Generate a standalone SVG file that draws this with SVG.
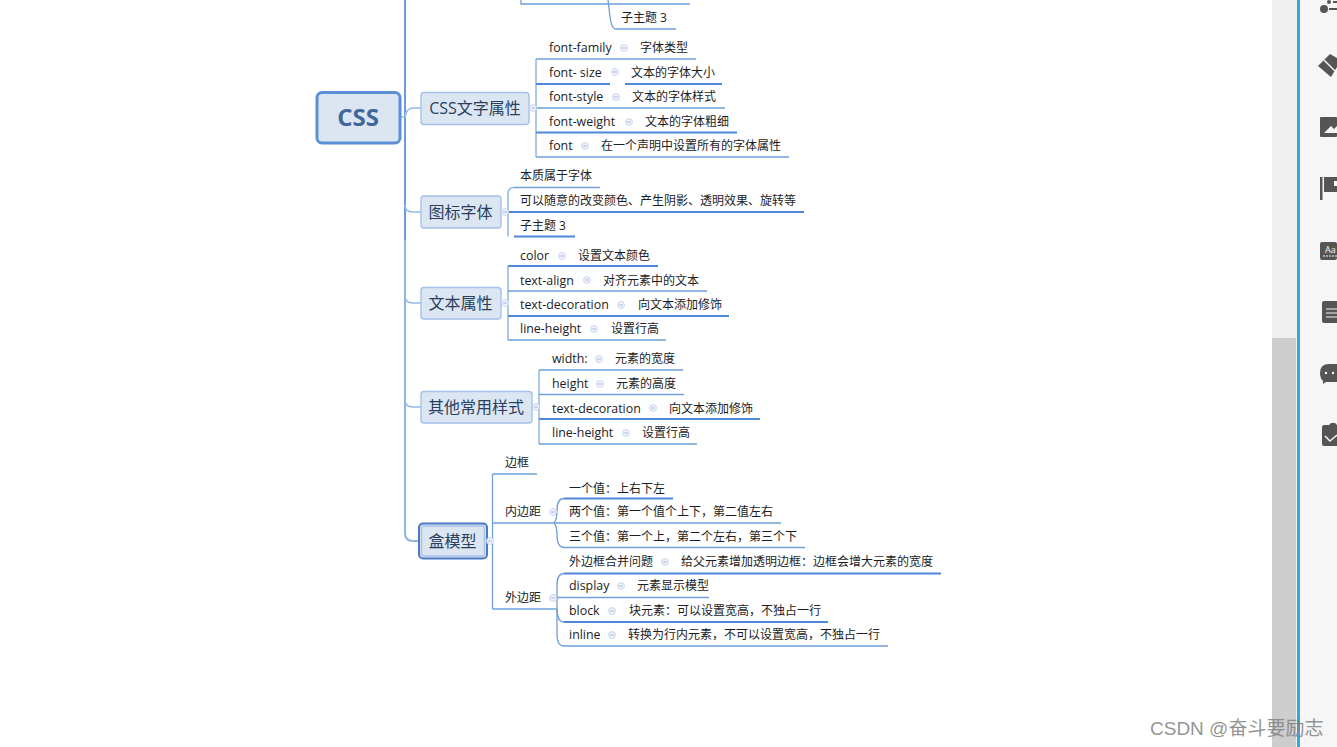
<svg xmlns="http://www.w3.org/2000/svg" width="1337" height="747" viewBox="0 0 1337 747">
<style>
text{font-family:"Open Sans","Noto Sans CJK SC",sans-serif}
.l{font-size:12px;fill:#1c1c24;dominant-baseline:central}
.a{font-size:12.4px}
.s{font-size:16px;fill:#2a3f5c;text-anchor:middle;dominant-baseline:central}
.c{fill:none;stroke:#6f9fdc;stroke-width:1.3}
.b{fill:none;stroke:#97bbe8;stroke-width:1.6}
.m{fill:none;stroke:#6b9bdc;stroke-width:2}
.m2{fill:none;stroke:#8fb4e6;stroke-width:2}
.t{fill:none;stroke:#4f88d8;stroke-width:2}
.n{fill:#dce6f3;stroke:#a3c1ea;stroke-width:1.4}
.f{fill:#f0f3fa;stroke:#c9d5ee;stroke-width:1}
.d{stroke:#a5b2d0;stroke-width:1}
.i{fill:#555}
.w{fill:#f7f7f7}
</style>
<defs>
<g id="fold"><circle r="3.400" class="f"/><path d="M-1.800 0H1.800" class="d"/></g>
</defs>
<rect width="1337" height="747" fill="#fff"/>

<g id="connectors">
<path class="m" d="M405 0V240"/>
<path class="m2" d="M405 240V533Q405 541 413 541H418"/>
<path class="b" d="M400 117H405Q406 108 414 108H421"/>
<path class="b" d="M405 205Q405 212 413 212H421"/>
<path class="b" d="M405 296Q405 303 413 303H421"/>
<path class="b" d="M405 400Q405 407 413 407H421"/>
<path class="c" d="M521 0V4H690"/>
<path class="c" d="M608 0C610 14 610 29 616 29H676"/>
<path class="b" d="M529 108H536"/>
<path class="b" d="M536 157V59"/>
<path class="c" d="M536 59H696"/>
<path class="t" d="M536 84H610M625 84H722"/>
<path class="c" d="M536 108H725"/>
<path class="t" d="M536 132.500H737"/>
<path class="c" d="M536 157H789"/>
<path class="b" d="M501 212H508"/>
<path class="b" d="M508 236.500V194Q508 187.500 514 187.500"/>
<path class="c" d="M514 187.500H600"/>
<path class="t" d="M508 212H804"/>
<path class="t" d="M514 236.500H575"/>
<path class="b" d="M501 303H508"/>
<path class="b" d="M508 340V266"/>
<path class="t" d="M508 266H658"/>
<path class="c" d="M508 291H707"/>
<path class="t" d="M508 316H729"/>
<path class="c" d="M508 340H666"/>
<path class="b" d="M532 407H539"/>
<path class="b" d="M539 444V370"/>
<path class="c" d="M539 370H683"/>
<path class="c" d="M539 394.500H684"/>
<path class="t" d="M539 419H760"/>
<path class="c" d="M539 444H697"/>
<path class="c" d="M487 541H492"/>
<path class="c" d="M492.500 609V474"/>
<path class="c" d="M492.500 474H537"/>
<path class="c" d="M492.500 523H781"/>
<path class="c" d="M492.500 609H557"/>
<path class="c" d="M554 523Q557 520 557 510Q557 498.500 564 498.500"/>
<path class="t" d="M564 498.500H673"/>
<path class="c" d="M554 523Q557 526 557 535Q557 547.500 564 547.500H805"/>
<path class="c" d="M557 609V585Q557 573.500 564 573.500"/>
<path class="t" d="M564 573.500H941"/>
<path class="c" d="M557 597.500H709"/>
<path class="c" d="M557 609Q557 622 564 622"/>
<path class="t" d="M564 622H828"/>
<path class="c" d="M557 609V634Q557 646 564 646H888"/>
</g>

<g id="node-css"><rect x="317" y="92.500" width="83" height="50.500" rx="5" fill="#dce6f3" stroke="#5b8fd6" stroke-width="3"/><text x="358" y="116" text-anchor="middle" dominant-baseline="central" style="font-size:24px;font-weight:700;fill:#41669a">CSS</text></g>

<g id="node-t0"><text class="l" x="621" y="17">子主题 3</text></g>

<g id="node-font"><rect class="n" x="421" y="92.500" width="108" height="32" rx="3"/><text class="s" x="475" y="108">CSS文字属性</text><use href="#fold" x="533" y="108"/></g>
<g id="node-font-family"><text class="l a" x="549" y="47">font-family</text><use href="#fold" x="624" y="48"/><text class="l" x="640" y="47">字体类型</text></g>
<g id="node-font-size"><text class="l a" x="549" y="72">font- size</text><use href="#fold" x="615" y="72"/><text class="l" x="631" y="72">文本的字体大小</text></g>
<g id="node-font-style"><text class="l a" x="549" y="96.500">font-style</text><use href="#fold" x="616" y="97"/><text class="l" x="632" y="96.500">文本的字体样式</text></g>
<g id="node-font-weight"><text class="l a" x="549" y="121">font-weight</text><use href="#fold" x="629" y="122"/><text class="l" x="645" y="121">文本的字体粗细</text></g>
<g id="node-font-all"><text class="l a" x="549" y="145">font</text><use href="#fold" x="585" y="146"/><text class="l" x="601" y="145">在一个声明中设置所有的字体属性</text></g>

<g id="node-icon"><rect class="n" x="421" y="196" width="80" height="32" rx="3"/><text class="s" x="460.500" y="212">图标字体</text><use href="#fold" x="505" y="212"/></g>
<g id="node-icon-1"><text class="l" x="520" y="175">本质属于字体</text></g>
<g id="node-icon-2"><text class="l" x="520" y="200">可以随意的改变颜色、产生阴影、透明效果、旋转等</text></g>
<g id="node-icon-3"><text class="l" x="520" y="225">子主题 3</text></g>

<g id="node-text"><rect class="n" x="421" y="287.500" width="80" height="31.500" rx="3"/><text class="s" x="460.500" y="303">文本属性</text><use href="#fold" x="505" y="303"/></g>
<g id="node-color"><text class="l a" x="520" y="255">color</text><use href="#fold" x="562" y="256"/><text class="l" x="578" y="255">设置文本颜色</text></g>
<g id="node-align"><text class="l a" x="520" y="280">text-align</text><use href="#fold" x="587" y="280"/><text class="l" x="603" y="280">对齐元素中的文本</text></g>
<g id="node-deco"><text class="l a" x="520" y="304.500">text-decoration</text><use href="#fold" x="621" y="305"/><text class="l" x="638" y="304.500">向文本添加修饰</text></g>
<g id="node-lh"><text class="l a" x="520" y="328">line-height</text><use href="#fold" x="594" y="329"/><text class="l" x="611" y="328">设置行高</text></g>

<g id="node-other"><rect class="n" x="421" y="391.500" width="111" height="31.500" rx="3"/><text class="s" x="476" y="407">其他常用样式</text><use href="#fold" x="536" y="407"/></g>
<g id="node-width"><text class="l a" x="552" y="358">width:</text><use href="#fold" x="599" y="359"/><text class="l" x="615" y="358">元素的宽度</text></g>
<g id="node-height"><text class="l a" x="552" y="383">height</text><use href="#fold" x="600" y="384"/><text class="l" x="616" y="383">元素的高度</text></g>
<g id="node-deco2"><text class="l a" x="552" y="408">text-decoration</text><use href="#fold" x="653" y="408"/><text class="l" x="669" y="408">向文本添加修饰</text></g>
<g id="node-lh2"><text class="l a" x="552" y="432">line-height</text><use href="#fold" x="626" y="433"/><text class="l" x="642" y="432">设置行高</text></g>

<g id="node-box"><rect x="419" y="523.500" width="68" height="35" rx="4" fill="#dce6f3" stroke="#4f78c4" stroke-width="2"/><rect x="421.500" y="526" width="63" height="30" rx="2" fill="none" stroke="#a9c4ea" stroke-width="1.500"/><text class="s" x="452.500" y="541">盒模型</text><use href="#fold" x="490" y="541"/></g>
<g id="node-border"><text class="l" x="505" y="462">边框</text></g>
<g id="node-padding"><text class="l" x="505" y="511">内边距</text><use href="#fold" x="553" y="512"/></g>
<g id="node-p1"><text class="l" x="569" y="488">一个值：上右下左</text></g>
<g id="node-p2"><text class="l" x="569" y="511">两个值：第一个值个上下，第二值左右</text></g>
<g id="node-p3"><text class="l" x="569" y="536">三个值：第一个上，第二个左右，第三个下</text></g>
<g id="node-margin"><text class="l" x="505" y="597">外边距</text><use href="#fold" x="553" y="598"/></g>
<g id="node-m1"><text class="l" x="569" y="561.500">外边框合并问题</text><use href="#fold" x="665" y="562"/><text class="l" x="681" y="561.500">给父元素增加透明边框：边框会增大元素的宽度</text></g>
<g id="node-m2"><text class="l a" x="569" y="585.500">display</text><use href="#fold" x="621" y="586"/><text class="l" x="637" y="585.500">元素显示模型</text></g>
<g id="node-m3"><text class="l a" x="569" y="610">block</text><use href="#fold" x="612" y="611"/><text class="l" x="629" y="610">块元素：可以设置宽高，不独占一行</text></g>
<g id="node-m4"><text class="l a" x="569" y="634">inline</text><use href="#fold" x="612" y="635"/><text class="l" x="628" y="634">转换为行内元素，不可以设置宽高，不独占一行</text></g>

<rect x="1272" y="0" width="25" height="338" fill="#f0f0f0"/>
<rect x="1272" y="338" width="24" height="409" fill="#cdcdcd"/>
<rect x="1296" y="338" width="1" height="409" fill="#f0f0f0"/>
<rect x="1300" y="0" width="37" height="747" fill="#f6f6f6"/>
<rect x="1297" y="0" width="3" height="747" fill="#35a8de"/>

<circle class="i" cx="1324" cy="9" r="4"/><circle class="i" cx="1329" cy="2" r="2"/><rect class="i" x="1329" y="8" width="8" height="2"/><rect class="i" x="1333" y="1" width="4" height="2"/>
<path class="i" d="M1318 66L1330 54L1337 58V67L1331 77Z"/><path d="M1324 60L1335 71" stroke="#f6f6f6" stroke-width="1.500"/>
<rect class="i" x="1320" y="117" width="17" height="20" rx="1"/><path class="w" d="M1324 133L1331 126L1334 129L1337 126V133Z"/>
<rect class="i" x="1320" y="177" width="2.500" height="23"/><path class="i" d="M1324 177H1337V192H1324Z"/><rect class="w" x="1334" y="181" width="3" height="5"/>
<rect class="i" x="1320" y="242" width="17" height="18" rx="2"/><text x="1325" y="253" style="font-size:9px;fill:#f6f6f6">Aa</text><path d="M1323 256H1337" stroke="#f6f6f6" stroke-dasharray="2 1"/>
<path class="i" d="M1324 301H1337V323H1324Q1322 323 1322 321V303Q1322 301 1324 301Z"/><path d="M1326 309H1337M1326 313H1337M1326 317H1337" stroke="#f6f6f6"/>
<path class="i" d="M1329 364H1337V382H1326L1323 384L1323 381Q1320 378 1320 373Q1320 364 1329 364Z"/><circle class="w" cx="1326" cy="373" r="1.200"/><circle class="w" cx="1333" cy="373" r="1.200"/>
<path class="i" d="M1324 425H1329L1331 423H1335L1337 425V446H1324Q1322 446 1322 444V427Q1322 425 1324 425Z"/><path d="M1325 436L1330 441L1337 435" fill="none" stroke="#f6f6f6" stroke-width="1.500"/>

<text x="1150" y="735" style="font-family:'Liberation Sans','Noto Sans CJK SC',sans-serif;font-size:19px;fill:#808080;fill-opacity:.85">CSDN @奋斗要励志</text>
</svg>
